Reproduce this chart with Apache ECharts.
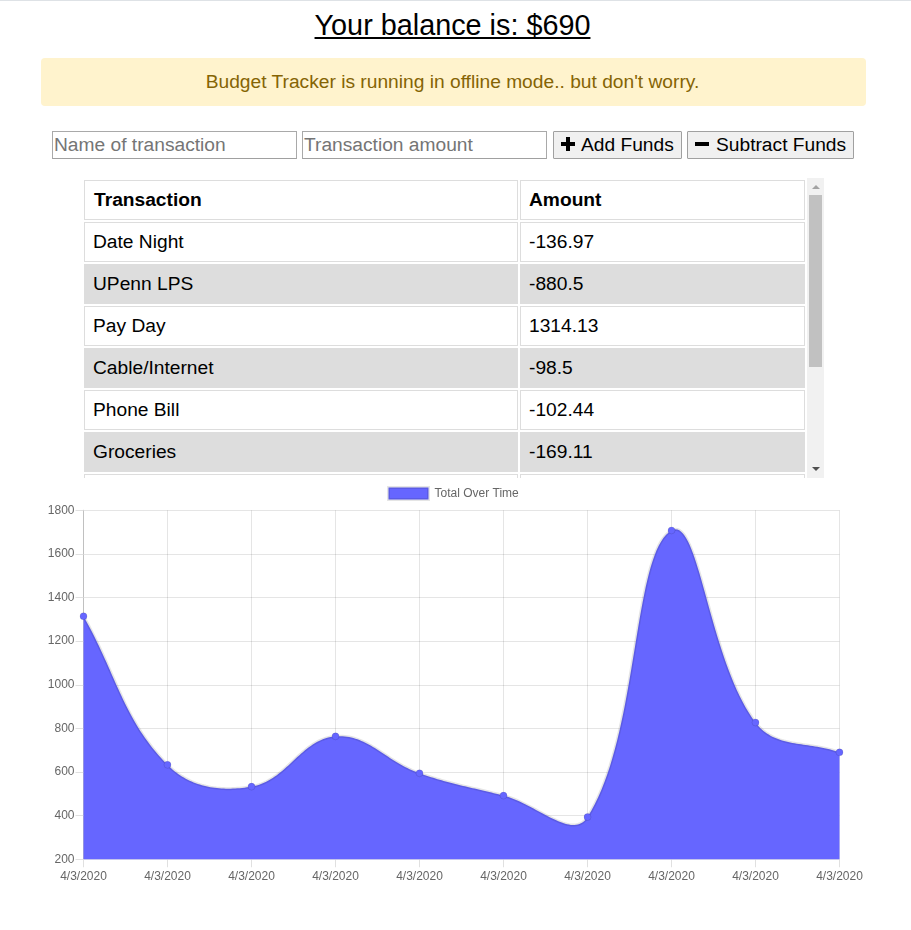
<!DOCTYPE html>
<html><head><meta charset="utf-8">
<style>
html,body{margin:0;padding:0;background:#fff;width:911px;height:930px;overflow:hidden;font-family:"Liberation Sans",Arial,sans-serif;color:#000}
.a{position:absolute;box-sizing:border-box}
#top{left:0;top:0;width:911px;height:1px;background:#dee2e6}
#title{left:-3px;top:8px;width:911px;text-align:center;font-size:28.8px;line-height:34px;text-decoration:underline}
#alert{left:41px;top:58px;width:825px;height:48px;background:#fff3cd;border-radius:4px;color:#856404;font-size:19.2px;line-height:47px;text-align:center;padding-right:2px}
.inp{top:131px;width:245px;height:28px;border:1px solid #a9a9a9;border-bottom-color:#a0a0a0;font-size:19.2px;line-height:25px;color:#757575;padding-left:1px;white-space:nowrap}
.btn{top:131px;height:28px;border:1px solid #a0a0a0;background:#f0f0f0;font-size:19.2px;line-height:25px;color:#000;white-space:nowrap;border-radius:1px}
.btn i{position:absolute;background:#000}
#wrap{left:84px;top:180px;width:722px;height:298px;overflow:hidden}
.cell{position:absolute;box-sizing:border-box;height:40px;border:1px solid #ddd;font-size:19.2px;line-height:38px;padding-left:8px;white-space:nowrap}
.cell.g{background:#ddd}
.cell.h{font-weight:bold;padding-left:9px}
#track{left:807px;top:178px;width:17px;height:300px;background:#f1f1f1}
#thumb{left:809px;top:195px;width:13px;height:172px;background:#c1c1c1}
#up{left:811.5px;top:185px;width:0;height:0;border-left:4px solid transparent;border-right:4px solid transparent;border-bottom:4px solid #a3a3a3}
#down{left:811.5px;top:467px;width:0;height:0;border-left:4px solid transparent;border-right:4px solid transparent;border-top:4px solid #505050}
#chart{left:0;top:470px;width:911px;height:460px}
</style></head><body>
<div class="a" id="top"></div>
<div class="a" id="title"></div>
<div class="a" id="alert"></div>
<div class="a inp" id="in1" style="left:52px"></div>
<div class="a inp" id="in2" style="left:302px"></div>
<div class="a btn" style="left:553px;width:129px;padding-left:27px"><i style="left:7px;top:10px;width:14px;height:4px"></i><i style="left:12px;top:5px;width:4px;height:14px"></i>Add Funds</div>
<div class="a btn" style="left:687px;width:167px;padding-left:28px"><i style="left:7px;top:10px;width:14px;height:4px"></i>Subtract Funds</div>
<div class="a" id="wrap"></div>
<div class="a" id="track"></div><div class="a" id="thumb"></div><div class="a" id="up"></div><div class="a" id="down"></div>
<div class="a" id="chart"></div>
<script src="https://cdn.jsdelivr.net/npm/echarts@6/dist/echarts.min.js"></script>
<script>
const balanceText = "Your balance is: $690";
const alertText = "Budget Tracker is running in offline mode.. but don't worry.";
const placeholders = ["Name of transaction", "Transaction amount"];
const tableHeader = ["Transaction", "Amount"];
const txNames = ["Date Night", "UPenn LPS", "Pay Day", "Cable/Internet", "Phone Bill", "Groceries"];
const txAmounts = ["-136.97", "-880.5", "1314.13", "-98.5", "-102.44", "-169.11"];

const dates = ["4/3/2020","4/3/2020","4/3/2020","4/3/2020","4/3/2020","4/3/2020","4/3/2020","4/3/2020","4/3/2020","4/3/2020"];
const totals = [1314.13, 633, 533, 763.39, 594.28, 491.84, 393.34, 1707.47, 826.97, 690];
const seriesName = "Total Over Time";
const yMin = 200, yMax = 1800, yStep = 200;
const tension = 0.4;

document.getElementById('title').textContent = balanceText;
document.getElementById('alert').textContent = alertText;
document.getElementById('in1').textContent = placeholders[0];
document.getElementById('in2').textContent = placeholders[1];
const wrap = document.getElementById('wrap');
function cell(txt, x, y, w, cls){
  const d = document.createElement('div');
  d.className = 'cell ' + cls;
  d.style.left = x + 'px'; d.style.top = y + 'px'; d.style.width = w + 'px';
  d.textContent = txt; wrap.appendChild(d);
}
cell(tableHeader[0], 0, 0, 434, 'h');
cell(tableHeader[1], 436, 0, 285, 'h');
wrap.lastChild.style.paddingLeft = '8px';
txNames.forEach((n, i) => {
  const y = 42 * (i + 1), c = i % 2 ? 'g' : '';
  cell(n, 0, y, 434, c);
  cell(txAmounts[i], 436, y, 285, c);
});
cell('', 0, 294, 434, ''); cell('', 436, 294, 285, '');

/* Same spline as the original chart: control points derived from the data through the axis scale */
function splinePolygon(api){
  const pts = totals.map((v, i) => api.coord([i, v]));
  const cps = pts.map((p, i) => {
    const a = pts[i - 1] || p, b = pts[i + 1] || p;
    const d01 = Math.hypot(p[0] - a[0], p[1] - a[1]), d12 = Math.hypot(b[0] - p[0], b[1] - p[1]);
    const s = d01 + d12 || 1;
    const fa = tension * d01 / s, fb = tension * d12 / s;
    return {
      prev: [p[0] - fa * (b[0] - a[0]), p[1] - fa * (b[1] - a[1])],
      next: [p[0] + fb * (b[0] - a[0]), p[1] + fb * (b[1] - a[1])]
    };
  });
  const out = [pts[0]];
  for (let i = 0; i < pts.length - 1; i++) {
    const p0 = pts[i], p1 = cps[i].next, p2 = cps[i + 1].prev, p3 = pts[i + 1];
    for (let k = 1; k <= 40; k++) {
      const t = k / 40, u = 1 - t;
      out.push([
        u*u*u*p0[0] + 3*u*u*t*p1[0] + 3*u*t*t*p2[0] + t*t*t*p3[0],
        u*u*u*p0[1] + 3*u*u*t*p1[1] + 3*u*t*t*p2[1] + t*t*t*p3[1]
      ]);
    }
  }
  return out;
}

const chart = echarts.init(document.getElementById('chart'), null, {renderer: 'canvas'});
chart.setOption({
  animation: false,
  legend: {
    show: true, top: 11, left: 382, itemWidth: 40, itemHeight: 12,
    icon: 'rect', selectedMode: false,
    data: [{name: seriesName, icon: 'rect', itemStyle: {color: '#6666ff', borderColor: 'rgba(0,0,0,0.1)', borderWidth: 3}}],
    textStyle: {color: '#666', fontSize: 12, fontFamily: 'Liberation Sans', padding: [0, 0, 0, 1]}
  },
  grid: {left: 83.5, top: 40.25, width: 756, height: 349, containLabel: false},
  xAxis: {
    type: 'category', data: dates, boundaryGap: false,
    axisLine: {lineStyle: {color: '#e6e6e6'}},
    axisTick: {show: true, length: 8, lineStyle: {color: '#e0e0e0'}, alignWithLabel: true},
    axisLabel: {color: '#666', fontSize: 12, fontFamily: 'Liberation Sans', interval: 0, margin: 11, showMinLabel: true, showMaxLabel: true},
    splitLine: {show: true, interval: 0, lineStyle: {color: 'rgba(0,0,0,0.1)', width: 1}}
  },
  yAxis: {
    type: 'value', min: yMin, max: yMax, interval: yStep,
    axisLine: {show: true, lineStyle: {color: '#c0c0c0'}},
    axisTick: {show: true, length: 8, lineStyle: {color: '#e0e0e0'}},
    axisLabel: {color: '#666', fontSize: 12, fontFamily: 'Liberation Sans', margin: 9, formatter: v => String(v)},
    splitLine: {show: true, lineStyle: {color: 'rgba(0,0,0,0.1)', width: 1}}
  },
  series: [
    {
      type: 'custom', name: seriesName, coordinateSystem: 'cartesian2d', z: 2,
      data: totals.map((v, i) => [i, v]),
      encode: {x: 0, y: 1},
      silent: true,
      renderItem(params, api){
        if (params.dataIndex !== 0) return null;
        const curve = splinePolygon(api);
        const base = api.coord([0, yMin])[1];
        const first = curve[0], last = curve[curve.length - 1];
        return {type: 'group', children: [
          {type: 'polygon', shape: {points: curve.concat([[last[0], base], [first[0], base]])}, style: {fill: '#6666ff', stroke: null}},
          {type: 'polyline', shape: {points: curve}, style: {fill: null, stroke: 'rgba(0,0,0,0.1)', lineWidth: 3}}
        ]};
      }
    },
    {
      type: 'line', name: seriesName, data: totals, z: 3,
      lineStyle: {width: 0}, symbol: 'circle', symbolSize: 7,
      itemStyle: {color: '#6666ff', borderColor: 'rgba(0,0,0,0.1)', borderWidth: 1},
      showSymbol: true, silent: true, clip: false
    }
  ]
});
</script>
</body></html>
